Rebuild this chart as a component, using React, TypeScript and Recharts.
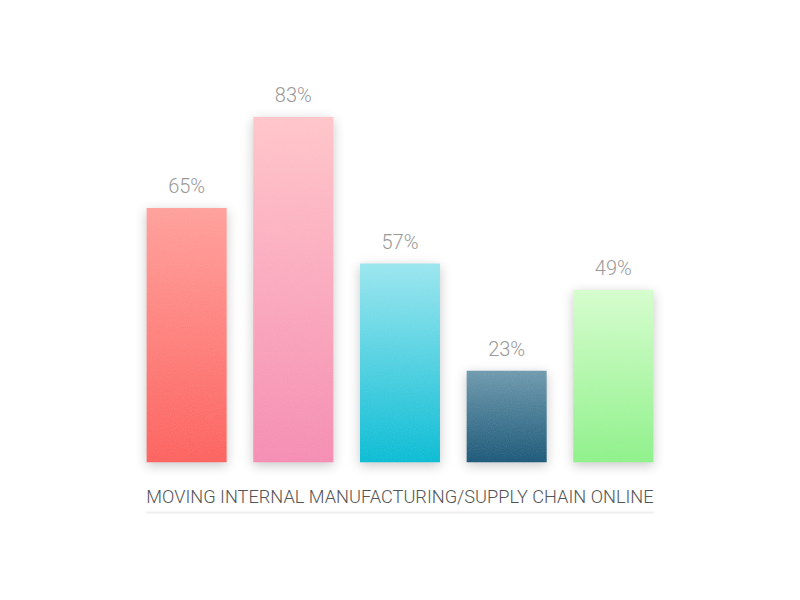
import { BarChart, Bar, XAxis, YAxis, Cell, LabelList, Label } from "recharts";

const categories = ["A", "B", "C", "D", "E"];
// printed percentages above the bars
const shares = [65, 83, 57, 23, 49];
// bar heights as drawn on a 0-100 scale
const barLevels = [63.6, 86.3, 49.7, 22.9, 43.1];
const gradientTops = ["#ffa09b", "#ffc5c9", "#9ae6ef", "#6f9aae", "#d5fdcd"];
const gradientBottoms = ["#fc625e", "#f58db2", "#0abcd4", "#1b5878", "#8ef189"];
const title = "MOVING INTERNAL MANUFACTURING/SUPPLY CHAIN ONLINE";

const data = categories.map((c, i) => ({ name: c, level: barLevels[i], share: shares[i] }));

function TitleWithRule(props: any) {
  const vb = props.viewBox || {};
  const { x = 0, y = 0, width = 0 } = vb;
  return (
    <g>
      <text
        x={x + width / 2}
        y={y + 41}
        textAnchor="middle"
        fill="#555"
        fontSize={18.2}
        fontWeight={300}
        fontFamily="Roboto, sans-serif"
      >
        {title}
      </text>
      <line x1={x + 13} x2={x + width - 13} y1={y + 50.3} y2={y + 50.3} stroke="#eeeeee" strokeWidth={2} />
    </g>
  );
}

export default function App() {
  return (
    <div style={{ position: "absolute", left: 0, top: 0, width: 800, height: 600, background: "#fff" }}>
      <BarChart
        width={800}
        height={600}
        data={data}
        margin={{ top: 62.3, right: 133.3, bottom: 87.7, left: 133.3 }}
        barCategoryGap="12.5%"
      >
        <defs>
          {gradientTops.map((top, i) => (
            <linearGradient key={i} id={`grad${i}`} x1="0" y1="0" x2="0" y2="1">
              <stop offset="0%" stopColor={top} />
              <stop offset="100%" stopColor={gradientBottoms[i]} />
            </linearGradient>
          ))}
          <filter id="soft" x="-30%" y="-20%" width="160%" height="140%" colorInterpolationFilters="sRGB">
            <feGaussianBlur in="SourceAlpha" stdDeviation="6" />
            <feOffset dx="0" dy="3" result="blur" />
            <feFlood floodColor="#000" floodOpacity="0.22" />
            <feComposite in2="blur" operator="in" result="shadow" />
            <feTurbulence type="fractalNoise" baseFrequency="0.95" numOctaves="2" seed="3" result="noise" />
            <feColorMatrix in="noise" type="matrix"
              values="0 0 0 0 1  0 0 0 0 1  0 0 0 0 1  0 0 0 0.12 -0.03" result="grainLight" />
            <feComposite in="grainLight" in2="SourceGraphic" operator="in" result="grain" />
            <feMerge>
              <feMergeNode in="shadow" />
              <feMergeNode in="SourceGraphic" />
              <feMergeNode in="grain" />
            </feMerge>
          </filter>
        </defs>
        <XAxis
          dataKey="name"
          height={50}
          axisLine={false}
          tickLine={false}
          tick={false}
        >
          <Label content={TitleWithRule} />
        </XAxis>
        <YAxis hide domain={[0, 100]} />
        <Bar dataKey="level" isAnimationActive={false} filter="url(#soft)">
          {data.map((_, i) => (
            <Cell key={i} fill={`url(#grad${i})`} />
          ))}
          <LabelList
            dataKey="share"
            position="top"
            offset={15}
            formatter={(v: any) => `${v}%`}
            fill="#999"
            fontSize={20}
            fontWeight={300}
            fontFamily="Roboto, sans-serif"
          />
        </Bar>
      </BarChart>
    </div>
  );
}
